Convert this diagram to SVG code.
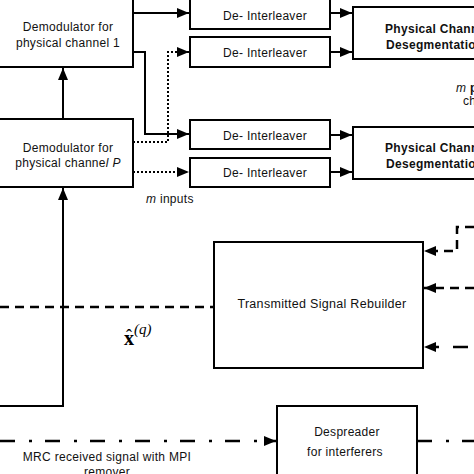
<svg xmlns="http://www.w3.org/2000/svg" width="474" height="474" viewBox="0 0 474 474">
<defs>
<style>
.box{fill:#fff;stroke:#000;stroke-width:2}
.t{font-family:"Liberation Sans",Arial,sans-serif;font-size:12px;fill:#111;letter-spacing:0.3px}
.b{font-weight:bold}
.ln{fill:none;stroke:#000;stroke-width:2}
.dot{fill:none;stroke:#000;stroke-width:2;stroke-dasharray:2 2}
.dash{fill:none;stroke:#000;stroke-width:2.5;stroke-dasharray:9 6}
.dd{fill:none;stroke:#000;stroke-width:2.5;stroke-dasharray:15 14 3 13}
.m{font-family:"Liberation Serif","Times New Roman",serif;fill:#000}
</style>
<marker id="ah" viewBox="0 0 12 10" refX="12" refY="5" markerWidth="12" markerHeight="10" markerUnits="userSpaceOnUse" orient="auto">
<path d="M0,0 L12,5 L0,10 Z" fill="#000"/>
</marker>
</defs>
<rect width="474" height="474" fill="#fff"/>

<g id="connectors">
<path class="ln" d="M133,13 H189" marker-end="url(#ah)"/>
<path class="ln" d="M133,52 H145 V134 H189" marker-end="url(#ah)"/>
<path class="dot" d="M133,142 H168 V52 H189" marker-end="url(#ah)"/>
<path class="dot" d="M133,172 H189" marker-end="url(#ah)"/>
<path class="ln" d="M330,13 H352" marker-end="url(#ah)"/>
<path class="ln" d="M330,52 H352" marker-end="url(#ah)"/>
<path class="ln" d="M330,135 H352" marker-end="url(#ah)"/>
<path class="ln" d="M330,172 H352" marker-end="url(#ah)"/>
<path class="ln" d="M63,119 V68" marker-end="url(#ah)"/>
<path class="ln" d="M0,406 H63 V188" marker-end="url(#ah)"/>
<path class="dash" d="M0,307 H213"/>
<path class="dash" d="M474,227 H457 V251 H424" marker-end="url(#ah)"/>
<path class="dash" d="M474,288 H424" marker-end="url(#ah)"/>
<path class="dd" d="M474,347 H424" stroke-dashoffset="-6" marker-end="url(#ah)"/>
<path class="dd" d="M0,441 H276" marker-end="url(#ah)"/>
<path class="dd" d="M417,441 H474"/>
</g>

<g id="demod1">
<rect class="box" x="-5" y="-5" width="138" height="72"/>
<text class="t" x="68" y="31" text-anchor="middle">Demodulator  for</text>
<text class="t" x="68" y="47" text-anchor="middle">physical channel 1</text>
</g>
<g id="demodP">
<rect class="box" x="-5" y="119" width="138" height="68"/>
<text class="t" x="68" y="152" text-anchor="middle">Demodulator  for</text>
<text class="t" x="68" y="167" text-anchor="middle">physical channe<tspan font-style="italic">l P</tspan></text>
</g>
<g id="deint1">
<rect class="box" x="190" y="-1" width="140" height="30"/>
<text class="t" x="265" y="20" text-anchor="middle">De- Interleaver</text>
</g>
<g id="deint2">
<rect class="box" x="190" y="37" width="140" height="30"/>
<text class="t" x="265" y="57" text-anchor="middle">De- Interleaver</text>
</g>
<g id="deint3">
<rect class="box" x="190" y="120" width="140" height="29"/>
<text class="t" x="265" y="140" text-anchor="middle">De- Interleaver</text>
</g>
<g id="deint4">
<rect class="box" x="190" y="158" width="140" height="29"/>
<text class="t" x="265" y="177" text-anchor="middle">De- Interleaver</text>
</g>
<g id="deseg1">
<rect class="box" x="353" y="7" width="140" height="52"/>
<text class="t b" x="385" y="33">Physical Channel</text>
<text class="t b" x="386" y="49">Desegmentation</text>
</g>
<g id="deseg2">
<rect class="box" x="353" y="127" width="140" height="52"/>
<text class="t b" x="385" y="152">Physical Channel</text>
<text class="t b" x="386" y="168">Desegmentation</text>
</g>
<g id="label-m-phys">
<text class="t b" x="456" y="92"><tspan font-style="italic" font-weight="normal">m</tspan> physical</text>
<text class="t" x="463" y="105">channels</text>
</g>
<g id="label-m-inputs">
<text class="t" x="146" y="203"><tspan font-style="italic">m</tspan> inputs</text>
</g>
<g id="rebuilder">
<rect class="box" x="214" y="242" width="209" height="126"/>
<text class="t" x="322" y="308" text-anchor="middle" style="font-size:12.5px">Transmitted Signal Rebuilder</text>
</g>
<g id="label-xhat">
<text class="m" x="124" y="345" font-size="20"><tspan font-weight="bold">x</tspan><tspan dx="-8" dy="-3" font-size="18">ˆ</tspan><tspan dx="2" dy="-8" font-size="15" font-style="italic">(q)</tspan></text>
</g>
<g id="despreader">
<rect class="box" x="277" y="406" width="140" height="72"/>
<text class="t" x="347" y="436" text-anchor="middle">Despreader</text>
<text class="t" x="345" y="456" text-anchor="middle">for interferers</text>
</g>
<g id="label-mrc">
<text class="t" x="107" y="461" text-anchor="middle">MRC received signal with MPI</text>
<text class="t" x="107" y="476" text-anchor="middle">remover</text>
</g>
</svg>
